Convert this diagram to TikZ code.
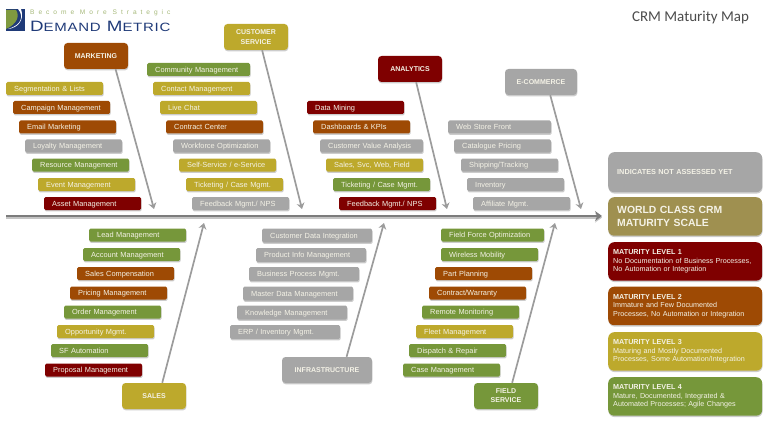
\documentclass[tikz,border=0pt]{standalone}
\usepackage{fontspec}
\setmainfont{Liberation Sans}
\newfontfamily\titlefont{Carlito}
\newfontfamily\sloganfont[LetterSpace=60]{Liberation Sans}
\newfontfamily\logofont[FakeStretch=1.25,LetterSpace=6]{Liberation Sans}
\usetikzlibrary{arrows.meta,shadows}
\definecolor{redbox}{HTML}{7F0000}
\definecolor{brownbox}{HTML}{9E4A04}
\definecolor{goldbox}{HTML}{BDA92C}
\definecolor{greenbox}{HTML}{76973A}
\definecolor{graybox}{HTML}{A6A6A6}
\definecolor{scalebox}{HTML}{9F9050}
\definecolor{bonegray}{HTML}{9C9C9C}
\definecolor{spinegray}{HTML}{7C7C7C}
\definecolor{logonavy}{HTML}{1F3A78}
\definecolor{logogreen}{HTML}{7F9A3F}
\definecolor{boxtext}{HTML}{F4F2E6}
\tikzset{
  softshadow/.style={drop shadow={opacity=.4,shadow xshift=.4pt,shadow yshift=-1.4pt}},
  itembox/.style={rounded corners=1.5pt,softshadow,anchor=west,inner xsep=8pt,inner ysep=0pt,
    text width=81pt,text height=6.6pt,text depth=1pt,minimum height=13pt,align=left,text=boxtext,font=\fontsize{7.4}{9}\selectfont},
  wideitembox/.style={itembox,text width=87pt},
  infrabox/.style={itembox,text width=94pt,minimum height=14pt},
  headbox/.style={rounded corners=3.5pt,softshadow,inner sep=0pt,minimum width=64pt,minimum height=26pt,
    align=center,text=boxtext,font=\fontsize{7}{9.2}\bfseries\selectfont},
  sidebox/.style={rounded corners=6pt,softshadow,anchor=north west,inner xsep=5pt,inner ysep=0pt,
    text width=144pt,minimum height=38.5pt,align=left,text=boxtext,font=\fontsize{7.2}{8.6}\selectfont},
  bone/.style={draw=bonegray,line width=1.7pt,-{Stealth[length=6pt,width=8pt]}},
  spine/.style={draw=spinegray,line width=2pt,-{Stealth[length=7pt,width=10pt]},
    preaction={draw=spinegray!45,line width=2pt,transform canvas={yshift=-1.6pt}}}
}
\begin{document}
\begin{tikzpicture}[x=1pt,y=-1pt]
\useasboundingbox (0,0) rectangle (768,433);
% logo
\fill[logonavy] (6,9) rectangle (25,31);
\fill[white] (18,9) .. controls (24,16) and (22,25) .. (8,29) .. controls (17,28) and (25,21) .. (21,9) -- cycle;
\fill[logogreen] (6,10) -- (16,10) .. controls (20,16) and (17,24) .. (6,29) -- cycle;
\node[anchor=west,inner sep=0pt,text=logogreen!70,font=\sloganfont\fontsize{6.6}{8}\selectfont] (slogan) at (30,12.5) {Become More Strategic};
\node[anchor=west,inner sep=0pt,text=logonavy,font=\logofont\fontsize{15}{16}\selectfont] (logotext) at (30,26) {D{\fontsize{12}{16}\selectfont EMAND} M{\fontsize{12}{16}\selectfont ETRIC}};
\node[text=black!70,font=\titlefont\fontsize{15}{18}\selectfont] (title) at (690.5,18) {CRM Maturity Map};
% category boxes
\node[headbox,fill=brownbox] (marketing) at (96,56) {MARKETING};
\node[headbox,fill=goldbox] (custservice) at (256,37) {CUSTOMER\\SERVICE};
\node[headbox,fill=redbox] (analytics) at (410,69) {ANALYTICS};
\node[headbox,fill=graybox,minimum width=72pt] (ecommerce) at (541,82) {E-COMMERCE};
\node[headbox,fill=goldbox] (sales) at (154,396) {SALES};
\node[headbox,fill=graybox,minimum width=90pt] (infra) at (327,370) {INFRASTRUCTURE};
\node[headbox,fill=greenbox] (fieldservice) at (506,396) {FIELD\\SERVICE};
% marketing
\node[itembox,fill=goldbox] (seglists) at (6,88.5) {Segmentation \& Lists};
\node[itembox,fill=brownbox] (campaign) at (13,107.5) {Campaign Management};
\node[itembox,fill=brownbox] (email) at (19,127) {Email Marketing};
\node[itembox,fill=graybox] (loyalty) at (25,146) {Loyalty Management};
\node[itembox,fill=greenbox] (resource) at (32,165) {Resource Management};
\node[itembox,fill=goldbox] (event) at (38,184.5) {Event Management};
\node[itembox,fill=redbox] (asset) at (44,203.5) {Asset Management};
% customer service
\node[wideitembox,fill=greenbox] (community) at (147,69.5) {Community Management};
\node[itembox,fill=goldbox] (contact) at (153,88.5) {Contact Management};
\node[itembox,fill=goldbox] (livechat) at (160,107.5) {Live Chat};
\node[itembox,fill=brownbox] (contractcenter) at (166,127) {Contract Center};
\node[itembox,fill=graybox] (workforce) at (173,146) {Workforce Optimization};
\node[itembox,fill=goldbox] (selfservice) at (179,165) {Self-Service / e-Service};
\node[itembox,fill=goldbox] (ticketcs) at (186,184.5) {Ticketing / Case Mgmt.};
\node[itembox,fill=graybox] (feedbackcs) at (192,203.5) {Feedback Mgmt./ NPS};
% analytics
\node[itembox,fill=redbox] (datamining) at (307,107.5) {Data Mining};
\node[itembox,fill=brownbox] (dashboards) at (313,127) {Dashboards \& KPIs};
\node[wideitembox,fill=graybox] (custvalue) at (320,146) {Customer Value Analysis};
\node[itembox,fill=goldbox] (salessvc) at (326,165) {Sales, Svc, Web, Field};
\node[itembox,fill=greenbox] (ticketan) at (333,184.5) {Ticketing / Case Mgmt.};
\node[itembox,fill=redbox] (feedbackan) at (339,203.5) {Feedback Mgmt./ NPS};
% e-commerce
\node[wideitembox,fill=graybox] (webstore) at (448,127) {Web Store Front};
\node[itembox,fill=graybox] (catalogue) at (454,146) {Catalogue Pricing};
\node[itembox,fill=graybox] (shipping) at (461,165) {Shipping/Tracking};
\node[itembox,fill=graybox] (inventory) at (467,184.5) {Inventory};
\node[itembox,fill=graybox] (affiliate) at (473,203.5) {Affiliate Mgmt.};
% sales
\node[itembox,fill=greenbox] (lead) at (89,235) {Lead Management};
\node[itembox,fill=greenbox] (account) at (83,254.5) {Account Management};
\node[itembox,fill=brownbox] (salescomp) at (77,273.5) {Sales Compensation};
\node[itembox,fill=brownbox] (pricing) at (70,293) {Pricing Management};
\node[itembox,fill=greenbox] (order) at (64,312) {Order Management};
\node[itembox,fill=goldbox] (opportunity) at (57,331.5) {Opportunity Mgmt.};
\node[itembox,fill=greenbox] (sfauto) at (51,350.5) {SF Automation};
\node[itembox,fill=redbox] (proposal) at (45,370) {Proposal Management};
% infrastructure
\node[infrabox,fill=graybox] (custdata) at (262,235.5) {Customer Data Integration};
\node[infrabox,fill=graybox] (productinfo) at (256,255) {Product Info Management};
\node[infrabox,fill=graybox] (bizprocess) at (249,274) {Business Process Mgmt.};
\node[infrabox,fill=graybox] (masterdata) at (243,293.5) {Master Data Management};
\node[infrabox,fill=graybox] (knowledge) at (237,312.5) {Knowledge Management};
\node[infrabox,fill=graybox] (erp) at (230,332) {ERP / Inventory Mgmt.};
% field service
\node[wideitembox,fill=greenbox] (fieldforce) at (441,235) {Field Force Optimization};
\node[itembox,fill=greenbox] (wireless) at (441,254.5) {Wireless Mobility};
\node[itembox,fill=brownbox] (partplan) at (435,273.5) {Part Planning};
\node[itembox,fill=brownbox] (warranty) at (429,293) {Contract/Warranty};
\node[itembox,fill=greenbox] (remote) at (422,312) {Remote Monitoring};
\node[itembox,fill=goldbox] (fleet) at (416,331.5) {Fleet Management};
\node[itembox,fill=greenbox] (dispatch) at (409,350.5) {Dispatch \& Repair};
\node[itembox,fill=greenbox] (casemgmt) at (403,370) {Case Management};
% side column
\node[sidebox,fill=graybox,minimum height=40pt,font=\fontsize{7.3}{9}\bfseries\selectfont,inner xsep=9pt,text width=136pt] (notassessed) at (608,152) {INDICATES NOT ASSESSED YET};
\node[sidebox,fill=scalebox,font=\fontsize{10.4}{13.6}\bfseries\selectfont,inner xsep=9pt,text width=136pt] (scale) at (608,197) {WORLD CLASS CRM\\MATURITY SCALE};
\node[sidebox,fill=redbox] (level1) at (608,242) {\textbf{MATURITY LEVEL 1}\\No Documentation of Business Processes,\\No Automation or Integration};
\node[sidebox,fill=brownbox] (level2) at (608,286.5) {\textbf{MATURITY LEVEL 2}\\Immature and Few Documented\\Processes, No Automation or Integration};
\node[sidebox,fill=goldbox] (level3) at (608,332) {\textbf{MATURITY LEVEL 3}\\Maturing and Mostly Documented\\Processes, Some Automation/Integration};
\node[sidebox,fill=greenbox] (level4) at (608,377) {\textbf{MATURITY LEVEL 4}\\Mature, Documented, Integrated \&\\Automated Processes; Agile Changes};
% spine and bones
\coordinate (spinestart) at (6,216);
\coordinate (marketingend) at (154,209);
\coordinate (custserviceend) at (302,209);
\coordinate (analyticsend) at (447,209);
\coordinate (ecommerceend) at (581,209);
\coordinate (salesend) at (204,223);
\coordinate (infraend) at (384,223);
\coordinate (fieldserviceend) at (555,223);
\draw[spine,shorten >=6pt] (spinestart) -- (spinestart -| scale.west);
\draw[bone] (marketing.-34.4) -- (marketingend);
\draw[bone] (custservice.-65) -- (custserviceend);
\draw[bone] (analytics.-65) -- (analyticsend);
\draw[bone] (ecommerce.-55) -- (ecommerceend);
\draw[bone] (sales.58) -- (salesend);
\draw[bone] (infra.34) -- (infraend);
\draw[bone] (fieldservice.65) -- (fieldserviceend);
\end{tikzpicture}
\end{document}
